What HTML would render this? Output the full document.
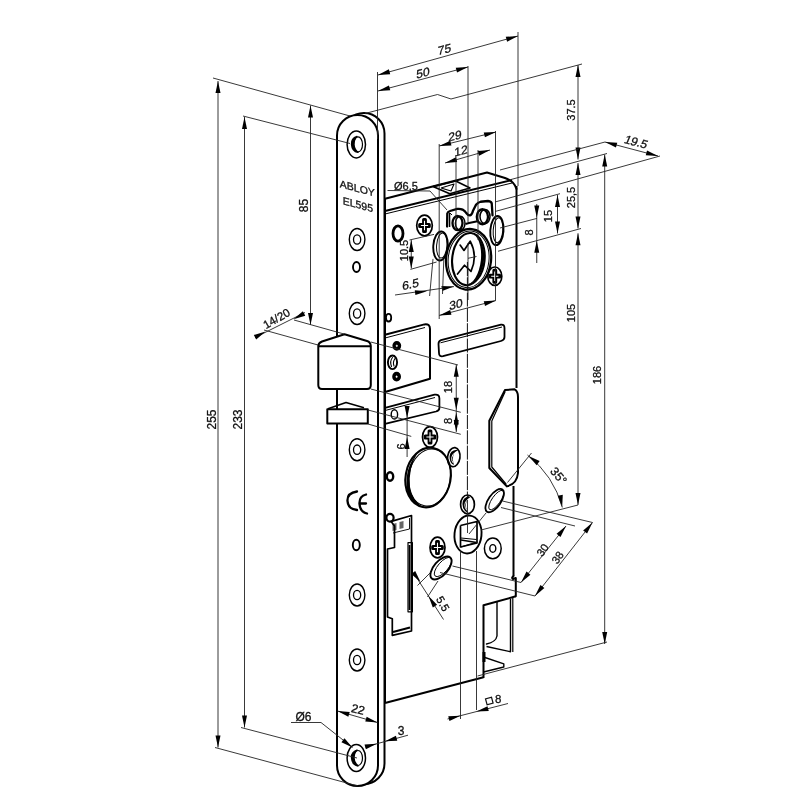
<!DOCTYPE html>
<html><head><meta charset="utf-8"><style>
html,body{margin:0;padding:0;background:#fff;width:800px;height:800px;overflow:hidden}
svg{display:block;will-change:transform}
text{font-family:"Liberation Sans",sans-serif;stroke:#111;stroke-width:0.3px}
</style></head><body>
<svg width="800" height="800" viewBox="0 0 800 800">
<rect width="800" height="800" fill="#fff"/>
<line x1="385" y1="198" x2="385" y2="703" stroke="#000" stroke-width="2.0"/>
<path d="M385,198.8 L487,172.5 L505,178" stroke="#000" stroke-width="2.0" fill="none" stroke-linejoin="round" />
<path d="M505,178 Q514,181 516.5,189" stroke="#000" stroke-width="2.0" fill="none" stroke-linejoin="round" stroke-linecap="round" />
<path d="M385,211 L512,180" stroke="#000" stroke-width="2.0" fill="none" stroke-linejoin="round" />
<path d="M385,214 L512,183" stroke="#000" stroke-width="1.0" fill="none" stroke-linejoin="round" />
<path d="M433,186.6 L455.75,181 L470,188 L449.75,193.75 L433,186.6" stroke="#000" stroke-width="1.6" fill="none" stroke-linejoin="round" />
<path d="M441,188 L454,184 L451,191 L441,188" stroke="#000" stroke-width="1.1" fill="none" stroke-linejoin="round" />
<line x1="516.5" y1="186" x2="516.5" y2="388" stroke="#000" stroke-width="2.0"/>
<path d="M505,390 L514.6,389.3 Q518,391 518,397 L518,473 Q517,484 506.8,486.4 L489.3,468 L489.3,420.8 Z" stroke="#000" stroke-width="2.0" fill="none" stroke-linejoin="round" stroke-linecap="round" />
<path d="M505,392 L491.8,421 L491.8,467 L506,484" stroke="#000" stroke-width="1.2" fill="none" stroke-linejoin="round" stroke-linecap="round" />
<line x1="513.5" y1="486" x2="513.5" y2="576" stroke="#000" stroke-width="2.0"/>
<path d="M513.5,576 Q511,578 513,579 L515.8,578 L515.8,596.3" stroke="#000" stroke-width="2.0" fill="none" stroke-linejoin="round" stroke-linecap="round" />
<path d="M515.8,596.3 L483.5,605.3 L483.5,678" stroke="#000" stroke-width="2.0" fill="none" stroke-linejoin="round" />
<path d="M497,602 L497,636 Q496,642 486.5,644" stroke="#000" stroke-width="1.4" fill="none" stroke-linejoin="round" stroke-linecap="round" />
<path d="M510.5,598.7 L510.5,651.7 L486.5,646.5" stroke="#000" stroke-width="1.4" fill="none" stroke-linejoin="round" />
<line x1="512.8" y1="598" x2="512.8" y2="652" stroke="#000" stroke-width="1.2"/>
<path d="M483.5,657 L503.8,663.8 L503.8,667 L483.5,672" stroke="#000" stroke-width="1.4" fill="none" stroke-linejoin="round" />
<line x1="484" y1="652" x2="484" y2="662" stroke="#000" stroke-width="3"/>
<line x1="385" y1="703" x2="483.5" y2="677.3" stroke="#000" stroke-width="2.0"/>
<path d="M343.5,133.5 A20.5,20.5 0 0 1 384.5,133.5 L384.5,763.5 A20.5,20.5 0 0 1 343.5,763.5 Z" stroke="#000" stroke-width="2.0" fill="#fff" stroke-linejoin="round" stroke-linecap="round" />
<path d="M337,135.5 A20.5,20.5 0 0 1 378,135.5 L378,765.5 A20.5,20.5 0 0 1 337,765.5 Z" stroke="#000" stroke-width="2.0" fill="#fff" stroke-linejoin="round" stroke-linecap="round" />
<ellipse cx="356.3" cy="144.4" rx="9.2" ry="13.5" stroke="#000" stroke-width="1.5" fill="none"/>
<path d="M357,136.4 Q351,138.4 351.5,144.4 Q352,151.4 358,152.4 Q354,148.4 354,144.4 Q354,139.4 357,136.4 Z" stroke="#000" stroke-width="1.3" fill="#000" stroke-linejoin="round" stroke-linecap="round" />
<ellipse cx="358" cy="144.4" rx="4.5" ry="7.5" stroke="#000" stroke-width="1.2" fill="none"/>
<ellipse cx="356.3" cy="758" rx="9.2" ry="13.5" stroke="#000" stroke-width="1.5" fill="none"/>
<path d="M357,750 Q351,752 351.5,758 Q352,765 358,766 Q354,762 354,758 Q354,753 357,750 Z" stroke="#000" stroke-width="1.3" fill="#000" stroke-linejoin="round" stroke-linecap="round" />
<ellipse cx="358" cy="758" rx="4.5" ry="7.5" stroke="#000" stroke-width="1.2" fill="none"/>
<ellipse cx="357.1" cy="239.5" rx="7.8" ry="11" stroke="#000" stroke-width="1.4" fill="none"/>
<ellipse cx="357.1" cy="239.5" rx="3.6" ry="4.7" stroke="#000" stroke-width="1.3" fill="none"/>
<ellipse cx="357.1" cy="313.5" rx="7.8" ry="11" stroke="#000" stroke-width="1.4" fill="none"/>
<ellipse cx="357.1" cy="313.5" rx="3.6" ry="4.7" stroke="#000" stroke-width="1.3" fill="none"/>
<ellipse cx="357.1" cy="449.7" rx="7.8" ry="11" stroke="#000" stroke-width="1.4" fill="none"/>
<ellipse cx="357.1" cy="449.7" rx="3.6" ry="4.7" stroke="#000" stroke-width="1.3" fill="none"/>
<ellipse cx="357.1" cy="595" rx="7.8" ry="11" stroke="#000" stroke-width="1.4" fill="none"/>
<ellipse cx="357.1" cy="595" rx="3.6" ry="4.7" stroke="#000" stroke-width="1.3" fill="none"/>
<ellipse cx="357.1" cy="660" rx="7.8" ry="11" stroke="#000" stroke-width="1.4" fill="none"/>
<ellipse cx="357.1" cy="660" rx="3.6" ry="4.7" stroke="#000" stroke-width="1.3" fill="none"/>
<ellipse cx="356.5" cy="267" rx="3.5" ry="5" stroke="#000" stroke-width="1.9" fill="none"/>
<ellipse cx="356.3" cy="545" rx="3.5" ry="5.2" stroke="#000" stroke-width="1.9" fill="none"/>
<path d="M357,491.5 Q347,493 347.5,501 Q348,509 357,510" stroke="#000" stroke-width="2.3" fill="none" stroke-linejoin="round" stroke-linecap="round" />
<path d="M366,494.5 Q359,496 359.5,504 Q360,512 367,513.5 M360,503.5 L366,503.5" stroke="#000" stroke-width="2.3" fill="none" stroke-linejoin="round" stroke-linecap="round" />
<text x="0" y="0" font-size="10.5" fill="#111" text-anchor="middle" dominant-baseline="central" transform="translate(357.3 188) skewY(15)">ABLOY</text>
<text x="0" y="0" font-size="10.5" fill="#111" text-anchor="middle" dominant-baseline="central" transform="translate(357.8 204.3) skewY(15)">EL595</text>
<path d="M318.3,346 L318.3,385 Q318.3,389 322,389 L367,389 Q370.8,389 370.8,385 L370.8,346 Q370.5,342 367,341 L344.5,334.3 L322,341.5 Q318.3,343 318.3,346 Z" stroke="#000" stroke-width="2.0" fill="#fff" stroke-linejoin="round" stroke-linecap="round" />
<line x1="318.3" y1="346.3" x2="370.8" y2="346.3" stroke="#000" stroke-width="2.0"/>
<path d="M327.3,409.3 L367.8,409.3 L367.8,423.5 L327.3,423.5 Z" stroke="#000" stroke-width="2.0" fill="#fff" stroke-linejoin="round" stroke-linecap="round" />
<path d="M328,408.8 L346,402.5 L364,407.8" stroke="#000" stroke-width="1.5" fill="none" stroke-linejoin="round" />
<ellipse cx="424.5" cy="225.5" rx="7.8" ry="10.3" stroke="#000" stroke-width="1.7" fill="none"/>
<path d="M423.6,219.5 L425.4,219.5 L425.4,224.6 L429.3,224.6 L429.3,226.4 L425.4,226.4 L425.4,231.5 L423.6,231.5 L423.6,226.4 L419.7,226.4 L419.7,224.6 L423.6,224.6 Z" stroke="#000" stroke-width="3.0" fill="none" stroke-linejoin="round" stroke-linecap="round" />
<path d="M424.5,220.7 L424.5,230.3 M420.9,225.5 L428.1,225.5" stroke="#fff" stroke-width="1.1"/>
<ellipse cx="494.8" cy="276.2" rx="7" ry="9.2" stroke="#000" stroke-width="1.7" fill="none"/>
<path d="M493.90000000000003,270.2 L495.7,270.2 L495.7,275.3 L499.6,275.3 L499.6,277.09999999999997 L495.7,277.09999999999997 L495.7,282.2 L493.90000000000003,282.2 L493.90000000000003,277.09999999999997 L490.0,277.09999999999997 L490.0,275.3 L493.90000000000003,275.3 Z" stroke="#000" stroke-width="3.0" fill="none" stroke-linejoin="round" stroke-linecap="round" />
<path d="M494.8,271.4 L494.8,281.0 M491.2,276.2 L498.40000000000003,276.2" stroke="#fff" stroke-width="1.1"/>
<ellipse cx="430" cy="437" rx="7.5" ry="10.3" stroke="#000" stroke-width="1.7" fill="none"/>
<path d="M429.1,431.0 L430.9,431.0 L430.9,436.1 L434.8,436.1 L434.8,437.9 L430.9,437.9 L430.9,443.0 L429.1,443.0 L429.1,437.9 L425.2,437.9 L425.2,436.1 L429.1,436.1 Z" stroke="#000" stroke-width="3.0" fill="none" stroke-linejoin="round" stroke-linecap="round" />
<path d="M430,432.2 L430,441.8 M426.4,437 L433.6,437" stroke="#fff" stroke-width="1.1"/>
<ellipse cx="437.5" cy="547.5" rx="7.5" ry="10.3" stroke="#000" stroke-width="1.7" fill="none"/>
<path d="M436.6,541.5 L438.4,541.5 L438.4,546.6 L442.3,546.6 L442.3,548.4 L438.4,548.4 L438.4,553.5 L436.6,553.5 L436.6,548.4 L432.7,548.4 L432.7,546.6 L436.6,546.6 Z" stroke="#000" stroke-width="3.0" fill="none" stroke-linejoin="round" stroke-linecap="round" />
<path d="M437.5,542.7 L437.5,552.3 M433.9,547.5 L441.1,547.5" stroke="#fff" stroke-width="1.1"/>
<ellipse cx="468.6" cy="259.3" rx="22.5" ry="30.4" stroke="#000" stroke-width="2.2" fill="none" transform="rotate(6 468.6 259.3)"/>
<ellipse cx="468.6" cy="259.3" rx="20.4" ry="28.4" stroke="#000" stroke-width="1.0" fill="none" transform="rotate(6 468.6 259.3)"/>
<ellipse cx="468.4" cy="259.1" rx="16.2" ry="26.2" stroke="#000" stroke-width="2.1" fill="none" transform="rotate(6 468.4 259.1)"/>
<g transform="rotate(6 468.4 259.1)"><path d="M468.4,233.5 A15.6,25.6 0 0 1 468.4,284.7 A12.2,25.0 0 0 0 468.4,233.5 Z" fill="#000"/><path d="M468.4,236 A12.8,23.4 0 0 1 468.4,282" fill="none" stroke="#fff" stroke-width="0.8"/></g>
<path d="M460.1,245.1 L464,250.4 L470.2,241.2 Q478,256 471,271.4 L464.5,265.25 L457.5,274" stroke="#000" stroke-width="1.7" fill="none" stroke-linejoin="round" stroke-linecap="round" />
<line x1="468" y1="243" x2="468" y2="300" stroke="#222" stroke-width="0.9"/>
<line x1="468" y1="258.3" x2="476.5" y2="256.5" stroke="#222" stroke-width="0.9"/>
<path d="M447.1,226.5 L447.3,213.5 Q447.8,211.5 450,211 L457.25,208.9 Q460.5,208.6 462.5,209.6 Q465,211 466.25,213 Q468,215.5 470,215.4 Q472,215 473,210.75 L476,204.75 Q478,202.3 480.5,201.75 L488,201 Q491.5,201.5 491.75,203.5 L492.5,215.25" stroke="#000" stroke-width="2.3" fill="none" stroke-linejoin="round" stroke-linecap="round" />
<line x1="449.6" y1="213" x2="449.6" y2="227" stroke="#000" stroke-width="1.4"/>
<path d="M449.5,212.5 L452,215" stroke="#000" stroke-width="1.0" fill="none" stroke-linejoin="round" />
<ellipse cx="460.2" cy="223.3" rx="4.8" ry="7" stroke="#000" stroke-width="1.5" fill="none"/>
<ellipse cx="457.5" cy="223.1" rx="5" ry="7.1" stroke="#000" stroke-width="2.3" fill="none"/>
<ellipse cx="485" cy="216.6" rx="5" ry="7.2" stroke="#000" stroke-width="1.5" fill="none"/>
<ellipse cx="482.4" cy="216.75" rx="5.6" ry="7.5" stroke="#000" stroke-width="2.3" fill="none"/>
<path d="M465.5,224 L469,223 L477.5,221.3" stroke="#000" stroke-width="2.0" fill="none" stroke-linejoin="round" />
<ellipse cx="440.5" cy="246" rx="7.2" ry="14.6" stroke="#000" stroke-width="1.9" fill="none" transform="rotate(4 440.5 246)"/>
<ellipse cx="441.8" cy="245.5" rx="5.2" ry="12.6" stroke="#000" stroke-width="1.0" fill="none" transform="rotate(4 441.8 245.5)"/>
<ellipse cx="496.9" cy="230.6" rx="6.6" ry="14.6" stroke="#000" stroke-width="1.9" fill="none" transform="rotate(4 496.9 230.6)"/>
<ellipse cx="498" cy="230.2" rx="4.8" ry="12.6" stroke="#000" stroke-width="1.0" fill="none" transform="rotate(4 498 230.2)"/>
<ellipse cx="398" cy="233.5" rx="5" ry="7.6" stroke="#000" stroke-width="2.8" fill="none"/>
<ellipse cx="388.6" cy="317.7" rx="2.6" ry="3.8" stroke="#000" stroke-width="1.8" fill="none"/>
<path d="M385,334.7 L424.4,324.4 Q430,323.5 430,329 L430,378.8 L385,392" stroke="#000" stroke-width="2.0" fill="none" stroke-linejoin="round" stroke-linecap="round" />
<line x1="385" y1="338" x2="425" y2="327.5" stroke="#000" stroke-width="1.0"/>
<ellipse cx="396.8" cy="345.8" rx="3.4" ry="3.9" stroke="#000" stroke-width="2.0" fill="#000"/>
<ellipse cx="396.8" cy="345.8" rx="0.7" ry="0.9" stroke="#fff" stroke-width="0.5" fill="#fff"/>
<ellipse cx="396.6" cy="376.7" rx="3.4" ry="3.9" stroke="#000" stroke-width="2.0" fill="#000"/>
<ellipse cx="396.6" cy="376.7" rx="0.7" ry="0.9" stroke="#fff" stroke-width="0.5" fill="#fff"/>
<ellipse cx="392.5" cy="362.3" rx="4.6" ry="6.8" stroke="#000" stroke-width="1.9" fill="none"/>
<path d="M392.5,357.5 Q389.5,361 391.5,366.5 M395,358.5 Q392.5,362 394,366" stroke="#000" stroke-width="1.1" fill="none" stroke-linejoin="round" stroke-linecap="round" />
<path d="M441,340.2 L501,324.6 Q504.5,324.2 504.5,328 L504.5,337 Q504.5,340 501,341 L443,356.2 Q439,357 439,353 L438.5,344 Q438.5,341 441,340.2 Z" stroke="#000" stroke-width="1.8" fill="none" stroke-linejoin="round" stroke-linecap="round" />
<line x1="440.5" y1="342.8" x2="502" y2="327" stroke="#000" stroke-width="1.0"/>
<path d="M385,407.8 L434.5,394.7 Q439.4,393.8 439.4,398.5 L439.4,408 Q439.4,410.6 436,411.5 L385,423.8" stroke="#000" stroke-width="1.8" fill="none" stroke-linejoin="round" stroke-linecap="round" />
<line x1="385" y1="410.5" x2="435" y2="397.5" stroke="#000" stroke-width="1.0"/>
<ellipse cx="394.4" cy="414.4" rx="3.2" ry="4.6" stroke="#000" stroke-width="1.4" fill="none"/>
<ellipse cx="428.1" cy="477.5" rx="22.5" ry="30" stroke="#000" stroke-width="2.1" fill="none" transform="rotate(10 428.1 477.5)"/>
<path d="M418,452 Q404,468 407,490 Q411,505 423,507.5 Q412,500 410,487 Q408,468 418,452 Z" fill="#000" transform="rotate(0)"/>
<ellipse cx="429.6" cy="477.5" rx="20.8" ry="28.8" stroke="#000" stroke-width="1.0" fill="none" transform="rotate(10 429.6 477.5)"/>
<ellipse cx="453.75" cy="457.2" rx="6.2" ry="9.6" stroke="#000" stroke-width="1.7" fill="none" transform="rotate(8 453.75 457.2)"/>
<g transform="rotate(8 453.75 457.2)"><path d="M455.5,449.5 Q449,451 449.5,457 Q450,463 455,465 Q452.5,460 453,456 Q453.5,451.5 457,450 Z" fill="#000"/><path d="M455.5,452 Q451.5,454 451.8,458 Q452,461.5 454,463" stroke="#fff" stroke-width="0.9" fill="none"/></g>
<ellipse cx="467.5" cy="504.4" rx="6.9" ry="9.4" stroke="#000" stroke-width="1.7" fill="none"/>
<path d="M469,496 Q462,498 462.5,504.5 Q463,511 468,513 Q465.5,508 466,504 Q466.5,499 470,497.5 Z" fill="#000"/><path d="M468.5,499 Q464.5,501.5 464.8,505 Q465,509 467,510.5" stroke="#fff" stroke-width="0.9" fill="none"/>
<ellipse cx="468" cy="534.5" rx="13.5" ry="19" stroke="#000" stroke-width="1.9" fill="none" transform="rotate(6 468 534.5)"/>
<path d="M460.5,525.5 L477,521.5 L477,543 L460.5,547 L460.5,525.5" stroke="#000" stroke-width="1.7" fill="none" stroke-linejoin="round" />
<path d="M461,538 L476.5,539.5" stroke="#000" stroke-width="1.0" fill="none" stroke-linejoin="round" />
<path d="M461,540 L476.5,542.5" stroke="#000" stroke-width="1.6" fill="none" stroke-linejoin="round" />
<path d="M461,547 L475.5,542.5" stroke="#000" stroke-width="1.2" fill="none" stroke-linejoin="round" />
<line x1="467.5" y1="500" x2="467.5" y2="533" stroke="#222" stroke-width="0.9"/>
<path d="M469,534 L486,513" stroke="#222" stroke-width="0.9" fill="none" stroke-linejoin="round" />
<ellipse cx="492.8" cy="548.4" rx="8.4" ry="10.3" stroke="#000" stroke-width="1.5" fill="none"/>
<ellipse cx="492.8" cy="548.4" rx="3" ry="3.8" stroke="#000" stroke-width="1.4" fill="none"/>
<ellipse cx="494.7" cy="500.6" rx="6.2" ry="13.5" stroke="#000" stroke-width="1.8" fill="none" transform="rotate(35 494.7 500.6)"/>
<ellipse cx="496.2" cy="500.1" rx="4.2" ry="11.5" stroke="#000" stroke-width="0.9" fill="none" transform="rotate(35 496.2 500.1)"/>
<ellipse cx="441" cy="568" rx="7" ry="14" stroke="#000" stroke-width="1.9" fill="none" transform="rotate(41 441 568)"/>
<ellipse cx="443" cy="567" rx="5" ry="12" stroke="#000" stroke-width="0.9" fill="none" transform="rotate(41 443 567)"/>
<ellipse cx="390" cy="476.5" rx="3.2" ry="4.2" stroke="#000" stroke-width="2.4" fill="none"/>
<ellipse cx="390" cy="517.8" rx="3.6" ry="3.9" stroke="#000" stroke-width="2.2" fill="none"/>
<path d="M390.5,521.6 L411.5,515.5 L411.5,631 L392.3,635.4 L392.3,618.8 L387.5,617 L387.5,549 L394.5,547.5 L394.5,526 L391.5,522" stroke="#000" stroke-width="1.7" fill="none" stroke-linejoin="round" />
<path d="M408,542.6 L412.4,542.6 L412.4,611.8 L408,611.8 Z" stroke="#000" stroke-width="1.2" fill="none" stroke-linejoin="round" stroke-linecap="round" />
<line x1="409.5" y1="545" x2="409.5" y2="610" stroke="#000" stroke-width="1.8"/>
<path d="M393,533 L409.5,529 L409.5,518" stroke="#000" stroke-width="0.9" fill="none" stroke-linejoin="round" />
<path d="M392.5,524 L396.5,523 L396.5,530 L392.5,531 Z M399.5,522 L403.5,521 L403.5,528 L399.5,529 Z" fill="#000" opacity="0.6"/>
<path d="M393,632 L410,627.5" stroke="#000" stroke-width="2.2" fill="none" stroke-linejoin="round" />
<line x1="218" y1="81" x2="218" y2="747.5" stroke="#222" stroke-width="0.9"/>
<path d="M218,81 L220.5,93 L215.5,93 Z" fill="#000"/>
<path d="M218,747.5 L215.5,735.5 L220.5,735.5 Z" fill="#000"/>
<line x1="213" y1="78" x2="350" y2="116" stroke="#222" stroke-width="0.9"/>
<line x1="215" y1="747.5" x2="358" y2="786" stroke="#222" stroke-width="0.9"/>
<text x="212" y="419.5" font-size="12" fill="#111" text-anchor="middle" dominant-baseline="central" transform="rotate(-90 212 419.5)">255</text>
<line x1="244.5" y1="117" x2="244.5" y2="727.5" stroke="#222" stroke-width="0.9"/>
<path d="M244.5,117 L247,129 L242,129 Z" fill="#000"/>
<path d="M244.5,727.5 L242,715.5 L247,715.5 Z" fill="#000"/>
<line x1="243" y1="116" x2="350" y2="143.5" stroke="#222" stroke-width="0.9"/>
<line x1="241" y1="727.5" x2="357" y2="758" stroke="#222" stroke-width="0.9"/>
<text x="237.5" y="419.5" font-size="12" fill="#111" text-anchor="middle" dominant-baseline="central" transform="rotate(-90 237.5 419.5)">233</text>
<line x1="310.5" y1="105.5" x2="310.5" y2="325" stroke="#222" stroke-width="0.9"/>
<path d="M310.5,105.5 L313,117.5 L308,117.5 Z" fill="#000"/>
<path d="M310.5,325 L308,313 L313,313 Z" fill="#000"/>
<text x="304" y="205.5" font-size="12" fill="#111" text-anchor="middle" dominant-baseline="central" transform="rotate(-90 304 205.5)">85</text>
<line x1="294" y1="320" x2="344" y2="334" stroke="#222" stroke-width="0.9"/>
<line x1="370.8" y1="342" x2="458" y2="365" stroke="#222" stroke-width="0.9"/>
<line x1="264" y1="330" x2="318" y2="345" stroke="#222" stroke-width="0.9"/>
<line x1="255" y1="337.5" x2="305" y2="312.5" stroke="#222" stroke-width="0.9"/>
<path d="M265.6,331.6 L256.16,339.42 L253.82,334.99 Z" fill="#000"/>
<path d="M293.5,319.2 L302.88,311.3 L305.25,315.71 Z" fill="#000"/>
<text x="276.5" y="318.5" font-size="11.5" fill="#111" text-anchor="middle" dominant-baseline="central" transform="rotate(-30 276.5 318.5)">14/20</text>
<line x1="378" y1="75" x2="518" y2="36" stroke="#222" stroke-width="0.9"/>
<path d="M378,75 L388.89,69.37 L390.23,74.19 Z" fill="#000"/>
<path d="M518,36 L507.11,41.63 L505.77,36.81 Z" fill="#000"/>
<text x="0" y="0" font-size="12" fill="#111" text-anchor="middle" dominant-baseline="central" transform="translate(444.5 49.5) skewY(-15)">75</text>
<line x1="518" y1="32" x2="518" y2="186" stroke="#222" stroke-width="0.9"/>
<line x1="378" y1="91" x2="468" y2="67" stroke="#222" stroke-width="0.9"/>
<path d="M378,91 L388.95,85.49 L390.24,90.32 Z" fill="#000"/>
<path d="M468,67 L457.05,72.51 L455.76,67.68 Z" fill="#000"/>
<text x="0" y="0" font-size="12" fill="#111" text-anchor="middle" dominant-baseline="central" transform="translate(423 73) skewY(-15)">50</text>
<line x1="468" y1="66" x2="468" y2="222" stroke="#222" stroke-width="0.9"/>
<line x1="377.5" y1="72" x2="377.5" y2="139" stroke="#222" stroke-width="0.9"/>
<path d="M365,113.5 L437.5,94.5 L451,99 L582,64" stroke="#222" stroke-width="0.9" fill="none" stroke-linejoin="round" />
<line x1="578" y1="65" x2="578" y2="159.5" stroke="#222" stroke-width="0.9"/>
<path d="M578,65 L580.5,77 L575.5,77 Z" fill="#000"/>
<path d="M578,159.5 L575.5,147.5 L580.5,147.5 Z" fill="#000"/>
<text x="571" y="110" font-size="11" fill="#111" text-anchor="middle" dominant-baseline="central" transform="rotate(-90 571 110)">37.5</text>
<line x1="500" y1="170" x2="605" y2="142" stroke="#222" stroke-width="0.9"/>
<line x1="511" y1="179.5" x2="607" y2="153.5" stroke="#222" stroke-width="0.9"/>
<line x1="495" y1="202" x2="660" y2="156" stroke="#222" stroke-width="0.9"/>
<line x1="605" y1="142" x2="658" y2="156" stroke="#222" stroke-width="0.9"/>
<path d="M605,142 L617.24,142.65 L615.96,147.48 Z" fill="#000"/>
<path d="M658,156 L645.76,155.35 L647.04,150.52 Z" fill="#000"/>
<text x="0" y="0" font-size="12" fill="#111" text-anchor="middle" dominant-baseline="central" transform="matrix(0.966 0.259 -0.4 0.92 636 142)">19.5</text>
<line x1="578" y1="163" x2="578" y2="228.5" stroke="#222" stroke-width="0.9"/>
<path d="M578,163 L580.5,175 L575.5,175 Z" fill="#000"/>
<path d="M578,228.5 L575.5,216.5 L580.5,216.5 Z" fill="#000"/>
<text x="570.75" y="197.5" font-size="11" fill="#111" text-anchor="middle" dominant-baseline="central" transform="rotate(-90 570.75 197.5)">25,5</text>
<line x1="498" y1="251.25" x2="581" y2="228.5" stroke="#222" stroke-width="0.9"/>
<line x1="557.5" y1="195" x2="557.5" y2="233.5" stroke="#222" stroke-width="0.9"/>
<path d="M557.5,195 L560,207 L555,207 Z" fill="#000"/>
<path d="M557.5,233.5 L555,221.5 L560,221.5 Z" fill="#000"/>
<text x="548.25" y="216" font-size="11" fill="#111" text-anchor="middle" dominant-baseline="central" transform="rotate(-90 548.25 216)">15</text>
<line x1="495" y1="211.5" x2="560" y2="193.7" stroke="#222" stroke-width="0.9"/>
<line x1="536.75" y1="204" x2="536.75" y2="263" stroke="#222" stroke-width="0.9"/>
<path d="M536.75,217.5 L534.25,205.5 L539.25,205.5 Z" fill="#000"/>
<path d="M536.75,240.75 L539.25,252.75 L534.25,252.75 Z" fill="#000"/>
<text x="528.75" y="232.5" font-size="11" fill="#111" text-anchor="middle" dominant-baseline="central" transform="rotate(-90 528.75 232.5)">8</text>
<line x1="500" y1="228" x2="537" y2="218.4" stroke="#222" stroke-width="0.9"/>
<line x1="578" y1="233.25" x2="578" y2="505" stroke="#222" stroke-width="0.9"/>
<path d="M578,233.25 L580.5,245.25 L575.5,245.25 Z" fill="#000"/>
<path d="M578,505 L575.5,493 L580.5,493 Z" fill="#000"/>
<text x="570.8" y="313" font-size="11" fill="#111" text-anchor="middle" dominant-baseline="central" transform="rotate(-90 570.8 313)">105</text>
<line x1="604.7" y1="154.5" x2="604.7" y2="644" stroke="#222" stroke-width="0.9"/>
<path d="M604.7,154.5 L607.2,166.5 L602.2,166.5 Z" fill="#000"/>
<path d="M604.7,644 L602.2,632 L607.2,632 Z" fill="#000"/>
<text x="596.8" y="375" font-size="11" fill="#111" text-anchor="middle" dominant-baseline="central" transform="rotate(-90 596.8 375)">186</text>
<line x1="477.5" y1="676" x2="607" y2="642" stroke="#222" stroke-width="0.9"/>
<line x1="439.2" y1="146" x2="496" y2="132" stroke="#222" stroke-width="0.9"/>
<path d="M439.2,146 L450.25,140.7 L451.45,145.56 Z" fill="#000"/>
<path d="M496,132 L484.95,137.3 L483.75,132.44 Z" fill="#000"/>
<text x="0" y="0" font-size="12" fill="#111" text-anchor="middle" dominant-baseline="central" transform="translate(455 136) skewY(-15)">29</text>
<line x1="439.2" y1="144" x2="439.2" y2="319" stroke="#222" stroke-width="0.9"/>
<line x1="495.5" y1="131" x2="495.5" y2="300" stroke="#222" stroke-width="0.9"/>
<line x1="445" y1="163" x2="490" y2="150" stroke="#222" stroke-width="0.9"/>
<path d="M445,163 L455.83,157.27 L457.22,162.07 Z" fill="#000"/>
<path d="M490,150 L479.17,155.73 L477.78,150.93 Z" fill="#000"/>
<text x="0" y="0" font-size="12" fill="#111" text-anchor="middle" dominant-baseline="central" transform="translate(461 151) skewY(-15)">12</text>
<line x1="456" y1="157" x2="456" y2="230" stroke="#222" stroke-width="0.9"/>
<line x1="478" y1="150" x2="478" y2="240" stroke="#222" stroke-width="0.9"/>
<text x="406" y="185.5" font-size="11" fill="#111" text-anchor="middle" dominant-baseline="central">Ø6,5</text>
<line x1="387.5" y1="190.5" x2="430" y2="191" stroke="#222" stroke-width="0.9"/>
<line x1="430" y1="191" x2="447" y2="210" stroke="#222" stroke-width="0.9"/>
<line x1="411.25" y1="240" x2="411.25" y2="268.5" stroke="#222" stroke-width="0.9"/>
<path d="M411.25,240 L413.75,252 L408.75,252 Z" fill="#000"/>
<path d="M411.25,268.5 L408.75,256.5 L413.75,256.5 Z" fill="#000"/>
<text x="404" y="250.5" font-size="11" fill="#111" text-anchor="middle" dominant-baseline="central" transform="rotate(-90 404 250.5)">10.5</text>
<line x1="410.4" y1="269.4" x2="436.6" y2="262" stroke="#222" stroke-width="0.9"/>
<line x1="409.5" y1="240" x2="434" y2="234.4" stroke="#222" stroke-width="0.9"/>
<line x1="395" y1="295" x2="454" y2="286.6" stroke="#222" stroke-width="0.9"/>
<path d="M427,291.2 L415.38,295.1 L414.79,290.13 Z" fill="#000"/>
<path d="M453.7,286.6 L442.27,291.02 L441.45,286.08 Z" fill="#000"/>
<text x="0" y="0" font-size="12" fill="#111" text-anchor="middle" dominant-baseline="central" transform="translate(410.5 284.5) skewY(-12)">6.5</text>
<line x1="429.6" y1="296" x2="433" y2="258.9" stroke="#222" stroke-width="0.9"/>
<line x1="442.5" y1="294" x2="443.8" y2="259.5" stroke="#222" stroke-width="0.9"/>
<line x1="439.2" y1="315.4" x2="496" y2="300.5" stroke="#222" stroke-width="0.9"/>
<path d="M439.2,315.4 L450.17,309.94 L451.44,314.77 Z" fill="#000"/>
<path d="M496,300.5 L485.03,305.96 L483.76,301.13 Z" fill="#000"/>
<text x="0" y="0" font-size="12" fill="#111" text-anchor="middle" dominant-baseline="central" transform="translate(456 304.5) skewY(-15)">30</text>
<line x1="456.25" y1="364.7" x2="456.25" y2="432" stroke="#222" stroke-width="0.9"/>
<path d="M456.25,364.7 L458.75,376.7 L453.75,376.7 Z" fill="#000"/>
<path d="M456.25,409.7 L453.75,397.7 L458.75,397.7 Z" fill="#000"/>
<path d="M456.25,412.5 L458.75,424.5 L453.75,424.5 Z" fill="#000"/>
<path d="M456.25,432 L453.75,420 L458.75,420 Z" fill="#000"/>
<text x="448" y="387" font-size="11" fill="#111" text-anchor="middle" dominant-baseline="central" transform="rotate(-90 448 387)">18</text>
<text x="448" y="421" font-size="11" fill="#111" text-anchor="middle" dominant-baseline="central" transform="rotate(-90 448 421)">8</text>
<line x1="370.8" y1="389" x2="460.75" y2="412.3" stroke="#222" stroke-width="0.9"/>
<line x1="368" y1="410" x2="460.75" y2="434.3" stroke="#222" stroke-width="0.9"/>
<line x1="407.1" y1="408" x2="407.1" y2="457" stroke="#222" stroke-width="0.9"/>
<path d="M407.1,418 L404.6,406 L409.6,406 Z" fill="#000"/>
<path d="M407.1,437 L409.6,449 L404.6,449 Z" fill="#000"/>
<text x="400.5" y="446.5" font-size="11" fill="#111" text-anchor="middle" dominant-baseline="central" transform="rotate(-90 400.5 446.5)">6</text>
<line x1="368" y1="424" x2="411.25" y2="436.4" stroke="#222" stroke-width="0.9"/>
<line x1="531.5" y1="453" x2="507.5" y2="482.5" stroke="#222" stroke-width="0.9"/>
<path d="M527.8,455.3 A98,98 0 0 1 562.2,507.1" stroke="#222" stroke-width="0.9" fill="none" stroke-linejoin="round" stroke-linecap="round" />
<path d="M528.5,456 L539.64,461.11 L536.68,465.13 Z" fill="#000"/>
<path d="M562.2,507.1 L557.83,495.65 L562.77,494.86 Z" fill="#000"/>
<text x="558.5" y="476" font-size="12" fill="#111" text-anchor="middle" dominant-baseline="central" transform="rotate(50 558.5 476)">35°</text>
<line x1="521" y1="582.5" x2="566" y2="526" stroke="#222" stroke-width="0.9"/>
<path d="M521,582.5 L526.52,571.56 L530.43,574.67 Z" fill="#000"/>
<path d="M566,526 L560.48,536.94 L556.57,533.83 Z" fill="#000"/>
<line x1="535" y1="596" x2="592.5" y2="522.5" stroke="#222" stroke-width="0.9"/>
<path d="M535,596 L540.42,585.01 L544.36,588.09 Z" fill="#000"/>
<path d="M592.5,522.5 L587.08,533.49 L583.14,530.41 Z" fill="#000"/>
<text x="542.5" y="550" font-size="11" fill="#111" text-anchor="middle" dominant-baseline="central" transform="rotate(-55 542.5 550)">30</text>
<text x="557.5" y="557.5" font-size="11" fill="#111" text-anchor="middle" dominant-baseline="central" transform="rotate(-55 557.5 557.5)">38</text>
<line x1="502.5" y1="501" x2="592.5" y2="522.5" stroke="#222" stroke-width="0.9"/>
<line x1="501" y1="507.5" x2="575" y2="526" stroke="#222" stroke-width="0.9"/>
<line x1="452.5" y1="566" x2="521" y2="582.5" stroke="#222" stroke-width="0.9"/>
<line x1="440" y1="572.5" x2="535" y2="596" stroke="#222" stroke-width="0.9"/>
<line x1="481" y1="530" x2="578" y2="505" stroke="#222" stroke-width="0.9"/>
<line x1="414" y1="573.5" x2="443.5" y2="619.5" stroke="#222" stroke-width="0.9"/>
<path d="M420.5,582 L411.22,573.99 L415.2,570.95 Z" fill="#000"/>
<path d="M428.5,596 L437.06,604.77 L432.85,607.46 Z" fill="#000"/>
<line x1="430.5" y1="572.5" x2="417.5" y2="585.5" stroke="#222" stroke-width="0.9"/>
<line x1="438" y1="581" x2="427.5" y2="597" stroke="#222" stroke-width="0.9"/>
<text x="443" y="603.75" font-size="11" fill="#111" text-anchor="middle" dominant-baseline="central" transform="rotate(60 443 603.75)">5.5</text>
<line x1="337.5" y1="711" x2="377.5" y2="722.5" stroke="#222" stroke-width="0.9"/>
<path d="M337.5,711 L349.72,711.91 L348.34,716.72 Z" fill="#000"/>
<path d="M377.5,722.5 L365.28,721.59 L366.66,716.78 Z" fill="#000"/>
<text x="358" y="709.5" font-size="12" fill="#111" text-anchor="middle" dominant-baseline="central" transform="rotate(15 358 709.5)">22</text>
<line x1="365" y1="747" x2="408" y2="735.2" stroke="#222" stroke-width="0.9"/>
<path d="M376.8,743.8 L365.87,749.35 L364.56,744.53 Z" fill="#000"/>
<path d="M385,741.3 L395.96,735.81 L397.24,740.64 Z" fill="#000"/>
<text x="401.2" y="730.5" font-size="12" fill="#111" text-anchor="middle" dominant-baseline="central">3</text>
<text x="303.5" y="716.5" font-size="12" fill="#111" text-anchor="middle" dominant-baseline="central">Ø6</text>
<line x1="291" y1="722.5" x2="321" y2="722.5" stroke="#222" stroke-width="0.9"/>
<line x1="321" y1="722.5" x2="352.5" y2="747.5" stroke="#222" stroke-width="0.9"/>
<path d="M352.5,747.5 L341.43,742.23 L344.46,738.25 Z" fill="#000"/>
<line x1="447.5" y1="719" x2="508" y2="703.5" stroke="#222" stroke-width="0.9"/>
<path d="M460.5,715.7 L449.48,721.08 L448.25,716.23 Z" fill="#000"/>
<path d="M476.5,711.6 L487.49,706.17 L488.74,711.01 Z" fill="#000"/>
<rect x="486.2" y="697.9" width="6.2" height="6.2" fill="none" stroke="#111" stroke-width="1.2" transform="rotate(-15 489.3 701)"/>
<text x="498.3" y="699" font-size="11.5" fill="#111" text-anchor="middle" dominant-baseline="central">8</text>
<line x1="460.5" y1="550" x2="460.5" y2="719" stroke="#222" stroke-width="0.9"/>
<line x1="476.5" y1="551" x2="476.5" y2="710" stroke="#222" stroke-width="0.9"/>
<line x1="467.4" y1="262" x2="467.4" y2="497" stroke="#111" stroke-width="1" stroke-dasharray="14,1.3"/>
</svg></body></html>
